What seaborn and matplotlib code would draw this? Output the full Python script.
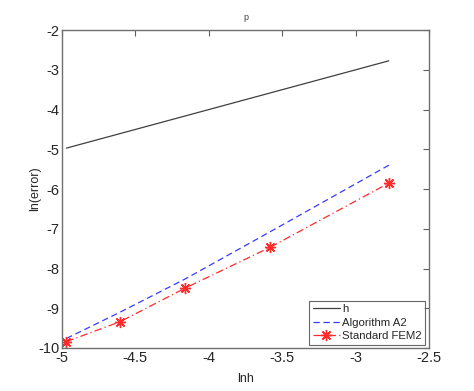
import numpy as np
import pandas as pd
import matplotlib
matplotlib.use("Agg")
import matplotlib.pyplot as plt
import seaborn as sns

lnh = [-4.970, -4.605, -4.159, -3.584, -2.773]
h_vals = [-4.970, -4.605, -4.159, -3.584, -2.773]
alg_a2 = [-9.76, -9.10, -8.26, -7.08, -5.40]
fem2 = [-9.84, -9.34, -8.49, -7.47, -5.85]
xticks = [-5, -4.5, -4, -3.5, -3, -2.5]
yticks = [-10, -9, -8, -7, -6, -5, -4, -3, -2]

sns.set_style("white")
plt.rcParams['font.family'] = ['Liberation Sans', 'DejaVu Sans']

fig = plt.figure(figsize=(4.74, 3.91), dpi=100)
ax = fig.add_axes([0.1308, 0.110, 0.774, 0.813])

sns.lineplot(x=lnh, y=h_vals, ax=ax, color='#404040', lw=0.9, label='h')
sns.lineplot(x=lnh, y=alg_a2, ax=ax, color='#3a3aff', lw=0.9, label='Algorithm A2',
             linestyle=(0, (5, 3)))
sns.lineplot(x=lnh, y=fem2, ax=ax, color='#ff2a2a', lw=0.9, label='Standard FEM2',
             linestyle=(0, (6, 2.5, 1, 2.5)), marker=(8, 2, 0), markersize=8,
             markeredgewidth=1.0,
             markeredgecolor='#ff2a2a', markerfacecolor='#ff2a2a')

ax.set_xlim(-5, -2.5)
ax.set_ylim(-10, -2)
ax.set_xticks(xticks)
ax.set_xticklabels([f"{t:g}" for t in xticks])
ax.set_yticks(yticks)
ax.set_yticklabels([f"{t:g}" for t in yticks])
ax.tick_params(direction='in', length=4, width=0.8, color='#606060',
               labelsize=10.5, top=True, right=True, pad=2)
for s in ax.spines.values():
    s.set_visible(True)
    s.set_color('#707070')
    s.set_linewidth(1.0)
ax.set_xlabel('lnh', fontsize=9, labelpad=6)
ax.set_ylabel('ln(error)', fontsize=9, labelpad=-2)
ax.set_title('p', fontsize=6.5, pad=7, color='#404040')

leg = ax.legend(loc='lower right', fontsize=8.2, frameon=True, fancybox=False,
                borderpad=0.3, labelspacing=0.3, handlelength=2.4,
                handletextpad=0.2, borderaxespad=0.3)
leg.get_frame().set_edgecolor('#404040')
leg.get_frame().set_linewidth(0.8)

fig.savefig('out.png', dpi=100)
